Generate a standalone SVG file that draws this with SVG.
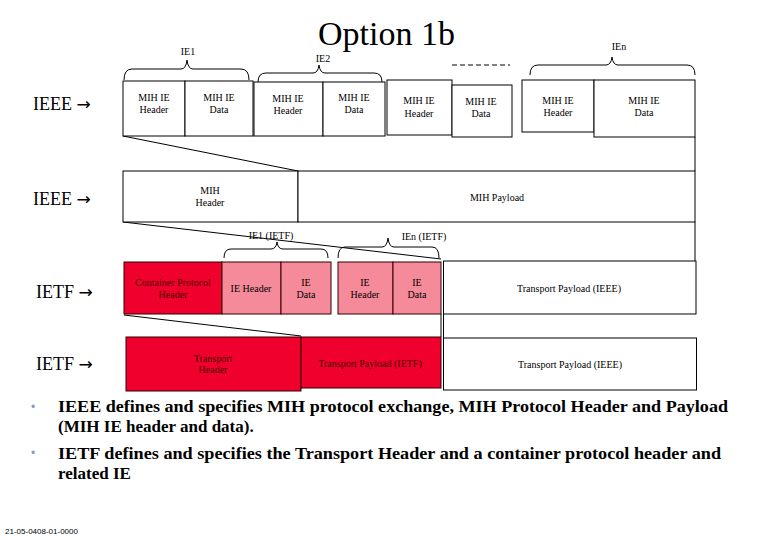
<svg xmlns="http://www.w3.org/2000/svg" width="780" height="540" viewBox="0 0 780 540">
<style>
.bx{fill:#fff;stroke:#000;stroke-width:1}
.red{fill:#f0002c;stroke:#300;stroke-width:1}
.pink{fill:#f58a9a;stroke:#300;stroke-width:1}
.t{font-family:"Liberation Serif","Times New Roman",serif;font-size:10px;text-anchor:middle;fill:#000}
.tr{font-family:"Liberation Serif","Times New Roman",serif;font-size:10px;text-anchor:middle;fill:#4a0000}
.lbl{font-family:"Liberation Serif","Times New Roman",serif;font-size:18px;fill:#000}
.arr{font-family:"DejaVu Sans",sans-serif;font-size:17px}
.bul{font-family:"Liberation Serif","Times New Roman",serif;font-size:17px;font-weight:bold;fill:#000}
.dot{font-family:"Liberation Sans",Arial,sans-serif;font-size:12px;fill:#8a9bbd}
.ln{fill:none;stroke:#000;stroke-width:1}
.br{fill:none;stroke:#000;stroke-width:1}
</style>
<rect width="780" height="540" fill="#fff"/>
<text x="318" y="45" font-family="Liberation Serif,'Times New Roman',serif" font-size="34">Option 1b</text>

<g id="braces">
<path class="br" d="M124,80 Q124,69 132,69 L181,69 Q186,69 187,60 Q188,69 193,69 L241,69 Q249,69 249,80"/>
<path class="br" d="M258,82 Q258,73 266,73 L313,73 Q318,73 319,65 Q320,73 325,73 L374,73 Q382,73 382,82"/>
<path class="br" d="M530,75 Q530,65 538,65 L606,65 Q611,65 612,57 Q613,65 618,65 L687,65 Q695,65 695,75"/>
<path class="br" d="M224,258 Q224,249 231,249 L271,249 Q276,249 277,242 Q278,249 283,249 L321,249 Q328,249 328,258"/>
<path class="br" d="M338,258 Q338,247 345,247 L382,247 Q387,247 388,238 Q389,247 394,247 L432,247 Q439,247 439,258"/>
<line x1="452" y1="65" x2="510" y2="65" stroke="#000" stroke-width="1" stroke-dasharray="5,3"/>
<text class="t" x="188" y="55">IE1</text>
<text class="t" x="323" y="62">IE2</text>
<text class="t" x="619" y="50">IEn</text>
<text class="t" x="271" y="239">IE1 (IETF)</text>
<text class="t" x="424" y="240">IEn (IETF)</text>
</g>

<g id="labels">
<text class="lbl" x="33" y="110">IEEE <tspan class="arr">→</tspan></text>
<text class="lbl" x="33" y="205">IEEE <tspan class="arr">→</tspan></text>
<text class="lbl" x="36" y="298">IETF <tspan class="arr">→</tspan></text>
<text class="lbl" x="36" y="370">IETF <tspan class="arr">→</tspan></text>
</g>

<g id="connectors">
<line class="ln" x1="123" y1="136" x2="298" y2="171"/>
<line class="ln" x1="123" y1="222" x2="441" y2="259"/>
<line class="ln" x1="124" y1="315" x2="301" y2="336"/>
<line class="ln" x1="695" y1="137" x2="695" y2="171"/>
<line class="ln" x1="695" y1="222" x2="695" y2="261"/>
<line class="ln" x1="441" y1="314" x2="441" y2="337"/>
<line class="ln" x1="443.5" y1="314" x2="443.5" y2="338"/>
</g>

<g id="ie1-header"><rect class="bx" x="123" y="81" width="62" height="55"/><text class="t" x="154" y="101">MIH IE</text><text class="t" x="154" y="113">Header</text></g>
<g id="ie1-data"><rect class="bx" x="185" y="81" width="68" height="55"/><text class="t" x="219" y="101">MIH IE</text><text class="t" x="219" y="113">Data</text></g>
<g id="ie2-header"><rect class="bx" x="254" y="82" width="69" height="54"/><text class="t" x="288" y="102">MIH IE</text><text class="t" x="288" y="114">Header</text></g>
<g id="ie2-data"><rect class="bx" x="323" y="82" width="62" height="54"/><text class="t" x="354" y="101">MIH IE</text><text class="t" x="354" y="113">Data</text></g>
<g id="ie3-header"><rect class="bx" x="387" y="80" width="65" height="55"/><text class="t" x="419" y="104">MIH IE</text><text class="t" x="419" y="117">Header</text></g>
<g id="ie3-data"><rect class="bx" x="452" y="85" width="60" height="52"/><text class="t" x="481" y="105">MIH IE</text><text class="t" x="481" y="117">Data</text></g>
<g id="ien-header"><rect class="bx" x="522" y="80" width="72" height="52"/><text class="t" x="558" y="104">MIH IE</text><text class="t" x="558" y="116">Header</text></g>
<g id="ien-data"><rect class="bx" x="594" y="80" width="101" height="57"/><text class="t" x="644" y="104">MIH IE</text><text class="t" x="644" y="116">Data</text></g>

<g id="mih-header"><rect class="bx" x="123" y="171" width="175" height="51"/><text class="t" x="210" y="194">MIH</text><text class="t" x="210" y="206">Header</text></g>
<g id="mih-payload"><rect class="bx" x="298" y="171" width="397" height="51"/><text class="t" x="497" y="201">MIH Payload</text></g>

<g id="container-header"><rect class="red" x="124" y="262" width="98" height="52"/><text class="tr" x="173" y="286">Container Protocol</text><text class="tr" x="173" y="298">Header</text></g>
<g id="ietf-ie1-header"><rect class="pink" x="222" y="262" width="59" height="52"/><text class="t" x="251" y="292">IE Header</text></g>
<g id="ietf-ie1-data"><rect class="pink" x="281" y="262" width="50" height="52"/><text class="t" x="306" y="286">IE</text><text class="t" x="306" y="298">Data</text></g>
<g id="ietf-ien-header"><rect class="pink" x="338" y="262" width="55" height="52"/><text class="t" x="365" y="286">IE</text><text class="t" x="365" y="298">Header</text></g>
<g id="ietf-ien-data"><rect class="pink" x="393" y="262" width="48" height="52"/><text class="t" x="417" y="286">IE</text><text class="t" x="417" y="298">Data</text></g>
<g id="transport-payload-ieee-1"><rect class="bx" x="443.5" y="261" width="252.5" height="53"/><text class="t" x="569" y="292">Transport Payload (IEEE)</text></g>

<g id="transport-header"><rect class="red" x="126" y="337" width="175" height="54"/><text class="tr" x="213" y="362">Transport</text><text class="tr" x="213" y="373">Header</text></g>
<g id="transport-payload-ietf"><rect class="red" x="301" y="337" width="140" height="51"/><text class="tr" x="370" y="367">Transport Payload (IETF)</text></g>
<g id="transport-payload-ieee-2"><rect class="bx" x="443.5" y="338" width="253" height="52"/><text class="t" x="570" y="368">Transport Payload (IEEE)</text></g>

<g id="bullets">
<text class="dot" x="31" y="411">•</text>
<text class="bul" x="58" y="412" textLength="670" lengthAdjust="spacingAndGlyphs">IEEE  defines and specifies MIH protocol exchange, MIH Protocol Header and Payload</text>
<text class="bul" x="58" y="432">(MIH IE header and data).</text>
<text class="dot" x="31" y="457">•</text>
<text class="bul" x="58" y="459" textLength="663" lengthAdjust="spacingAndGlyphs">IETF  defines and specifies the Transport Header and a container protocol header and</text>
<text class="bul" x="58" y="479">related IE</text>
</g>
<text x="5" y="534" font-family="Liberation Sans,Arial,sans-serif" font-size="8">21-05-0408-01-0000</text>
</svg>
